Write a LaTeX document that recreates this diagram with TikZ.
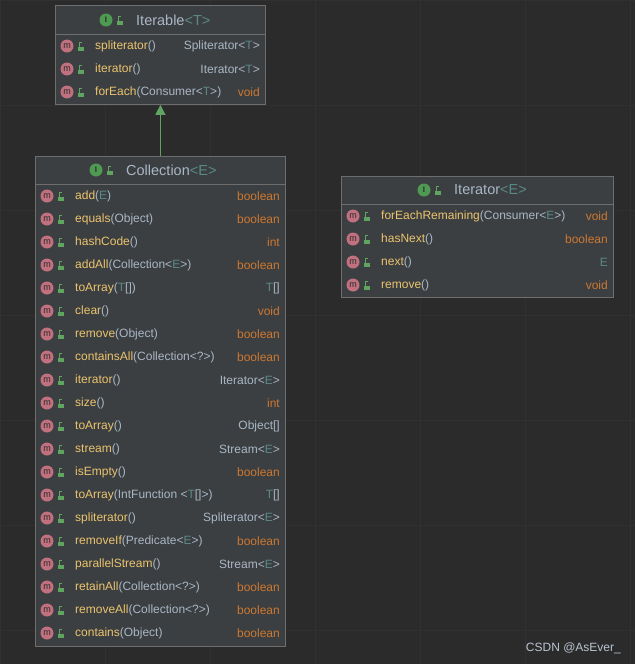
\documentclass[tikz,border=0pt]{standalone}
\usepackage{fontspec}
\setmainfont{Liberation Sans}
\usetikzlibrary{arrows.meta}
\definecolor{bg}{HTML}{2B2B2B}
\definecolor{boxfill}{HTML}{3C3F41}
\definecolor{boxline}{HTML}{6E6E6E}
\definecolor{mname}{HTML}{EBC46E}
\definecolor{ptxt}{HTML}{A9B7C6}
\definecolor{gen}{HTML}{5A8A86}
\definecolor{ret}{HTML}{CC7832}
\definecolor{micon}{HTML}{C0707E}
\definecolor{iicon}{HTML}{4E9A52}
\definecolor{lockc}{HTML}{5FA55F}
\definecolor{gridc}{HTML}{313131}
\newcommand\Gn[1]{\textcolor{gen}{#1}}
\newcommand\Pt[1]{\textcolor{ptxt}{#1}}
\tikzset{
 umlbox/.style={draw=boxline,fill=boxfill,line width=0.8pt},
 rowtxt/.style={inner sep=0pt,anchor=west,font=\fontsize{12}{14}\selectfont,text=mname},
 rettxt/.style={inner sep=0pt,anchor=east,font=\fontsize{12}{14}\selectfont,text=ret},
 ttl/.style={inner sep=0pt,anchor=west,font=\fontsize{14.5}{17}\selectfont,text=ptxt},
 mic/.style={circle,fill=micon,inner sep=0pt,minimum size=13pt,font=\fontsize{9}{9}\selectfont,text=bg},
 iic/.style={circle,fill=iicon,inner sep=0pt,minimum size=13pt,font=\fontsize{8}{8}\bfseries\selectfont,text=bg},
}
% #1 name prefix, #2 left, #3 right, #4 y, #5 method text, #6 return text
\newcommand\mrow[6]{%
 \node[mic] (#1i) at (#2+12,#4) {m};
 \fill[lockc] (#2+23,#4+0.5) rectangle (#2+29,#4+4.5);
 \draw[lockc,line width=0.9pt] (#2+24,#4+0.5) -- (#2+24,#4-3.5) -- (#2+27,#4-3.5);
 \node[rowtxt] (#1n) at (#2+40,#4) {#5};
 \node[rettxt] (#1r) at (#3-5,#4) {#6};
}
\begin{document}
\begin{tikzpicture}[x=1pt,y=-1pt]
\fill[bg] (0,0) rectangle (635,664);
\useasboundingbox (0,0) rectangle (635,664);
\foreach \x in {0,105,...,630} \draw[gridc] (\x,0) -- (\x,664);
\foreach \y in {0,105,...,660} \draw[gridc] (0,\y) -- (635,\y);
% Iterable
\node[umlbox,minimum width=210pt,minimum height=99pt,anchor=north west,inner sep=0pt] (iterable) at (55,5) {};
\draw[boxline,line width=0.8pt] (55,34) -- (265,34);
\node[iic] (itbi) at (106,20) {I};
\fill[lockc] (117,20.5) rectangle (123,24.5);
\draw[lockc,line width=0.9pt] (118,20.5) -- (118,16.5) -- (121,16.5);
\node[ttl] (itbt) at (136,20) {Iterable\Gn{<T>}};
\mrow{a1}{55}{265}{46}{spliterator\Pt{()}}{\Pt{Spliterator<}\Gn{T}\Pt{>}}
\mrow{a2}{55}{265}{69}{iterator\Pt{()}}{\Pt{Iterator<}\Gn{T}\Pt{>}}
\mrow{a3}{55}{265}{92}{forEach\Pt{(Consumer<}\Gn{T}\Pt{>)}}{void}
% Collection
\node[umlbox,minimum width=250pt,minimum height=490pt,anchor=north west,inner sep=0pt] (coll) at (35,156) {};
\draw[boxline,line width=0.8pt] (35,184) -- (285,184);
\node[iic] (coli) at (96,170) {I};
\fill[lockc] (107,170.5) rectangle (113,174.5);
\draw[lockc,line width=0.9pt] (108,170.5) -- (108,166.5) -- (111,166.5);
\node[ttl] (colt) at (126,170) {Collection\Gn{<E>}};
\mrow{c1}{35}{285}{196}{add\Pt{(}\Gn{E}\Pt{)}}{boolean}
\mrow{c2}{35}{285}{219}{equals\Pt{(Object)}}{boolean}
\mrow{c3}{35}{285}{242}{hashCode\Pt{()}}{int}
\mrow{c4}{35}{285}{265}{addAll\Pt{(Collection<}\Gn{E}\Pt{>)}}{boolean}
\mrow{c5}{35}{285}{288}{toArray\Pt{(}\Gn{T}\Pt{[])}}{\Gn{T}\Pt{[]}}
\mrow{c6}{35}{285}{311}{clear\Pt{()}}{void}
\mrow{c7}{35}{285}{334}{remove\Pt{(Object)}}{boolean}
\mrow{c8}{35}{285}{357}{containsAll\Pt{(Collection<?>)}}{boolean}
\mrow{c9}{35}{285}{380}{iterator\Pt{()}}{\Pt{Iterator<}\Gn{E}\Pt{>}}
\mrow{c10}{35}{285}{403}{size\Pt{()}}{int}
\mrow{c11}{35}{285}{426}{toArray\Pt{()}}{\Pt{Object[]}}
\mrow{c12}{35}{285}{449}{stream\Pt{()}}{\Pt{Stream<}\Gn{E}\Pt{>}}
\mrow{c13}{35}{285}{472}{isEmpty\Pt{()}}{boolean}
\mrow{c14}{35}{285}{495}{toArray\Pt{(IntFunction <}\Gn{T}\Pt{[]>)}}{\Gn{T}\Pt{[]}}
\mrow{c15}{35}{285}{518}{spliterator\Pt{()}}{\Pt{Spliterator<}\Gn{E}\Pt{>}}
\mrow{c16}{35}{285}{541}{removeIf\Pt{(Predicate<}\Gn{E}\Pt{>)}}{boolean}
\mrow{c17}{35}{285}{564}{parallelStream\Pt{()}}{\Pt{Stream<}\Gn{E}\Pt{>}}
\mrow{c18}{35}{285}{587}{retainAll\Pt{(Collection<?>)}}{boolean}
\mrow{c19}{35}{285}{610}{removeAll\Pt{(Collection<?>)}}{boolean}
\mrow{c20}{35}{285}{633}{contains\Pt{(Object)}}{boolean}
% Iterator
\node[umlbox,minimum width=272pt,minimum height=121pt,anchor=north west,inner sep=0pt] (iter) at (341,176) {};
\draw[boxline,line width=0.8pt] (341,204) -- (613,204);
\node[iic] (iri) at (424,190) {I};
\fill[lockc] (435,190.5) rectangle (441,194.5);
\draw[lockc,line width=0.9pt] (436,190.5) -- (436,186.5) -- (439,186.5);
\node[ttl] (irt) at (454,190) {Iterator\Gn{<E>}};
\mrow{r1}{341}{613}{216}{forEachRemaining\Pt{(Consumer<}\Gn{E}\Pt{>)}}{void}
\mrow{r2}{341}{613}{239}{hasNext\Pt{()}}{boolean}
\mrow{r3}{341}{613}{262}{next\Pt{()}}{\Gn{E}}
\mrow{r4}{341}{613}{285}{remove\Pt{()}}{void}
% inheritance arrow
\draw[iicon!90!white,line width=1pt,-{Triangle[length=10pt,width=10pt]}] (coll.north) -- (iterable.south);
\node[inner sep=0pt,anchor=east,text=ptxt!80!white,font=\fontsize{12}{14}\selectfont] (wm) at (621,648) {CSDN @AsEver\_};
\end{tikzpicture}
\end{document}
